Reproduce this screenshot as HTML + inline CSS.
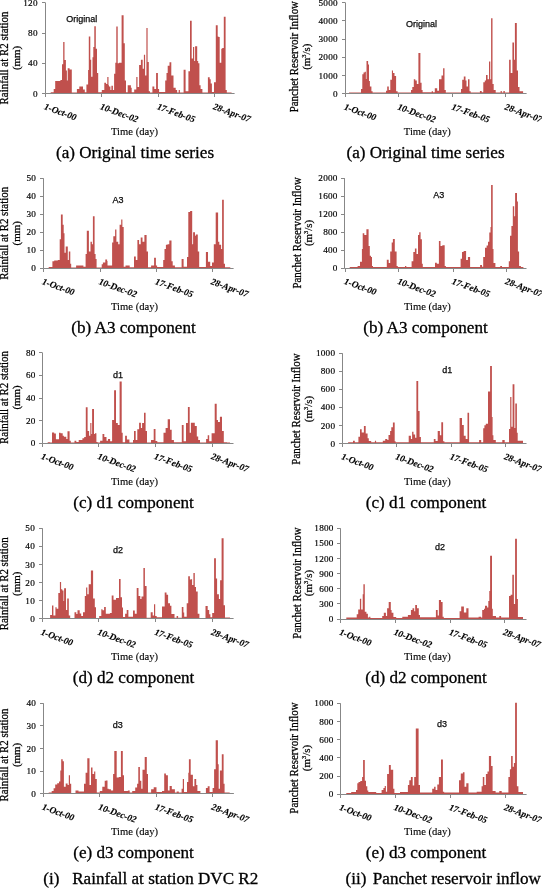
<!DOCTYPE html>
<html><head><meta charset="utf-8"><style>
html,body{margin:0;padding:0;background:#fff;}
body{width:542px;height:888px;overflow:hidden;}
svg{display:block;}
text{fill:#000;stroke:#000;stroke-width:0.25px;}
.yt{font-family:"Liberation Serif", "Times New Roman", serif;font-size:9.2px;letter-spacing:0.25px;stroke-width:0.18px;text-anchor:end;}
.yl{font-family:"Liberation Serif", "Times New Roman", serif;font-size:10.9px;text-anchor:middle;}
.sup{font-size:6.5px;}
.in{font-family:"Liberation Sans", Arial, sans-serif;font-size:9px;fill:#111;}
.xt{font-family:"Liberation Serif", "Times New Roman", serif;font-size:9.3px;font-weight:bold;font-style:italic;stroke-width:0.12px;}
.tm{font-family:"Liberation Serif", "Times New Roman", serif;font-size:10.6px;stroke-width:0.12px;text-anchor:middle;}
.cap{font-family:"Liberation Serif", "Times New Roman", serif;font-size:17.1px;stroke-width:0.3px;text-anchor:middle;}
</style></head><body>
<svg width="542" height="888" viewBox="0 0 542 888">
<path fill="#C0504D" d="M50.7 93.5L50.7 92.2L53.7 92.2L53.7 88.9L55.2 88.9L55.2 81.0L60.4 81.0L60.4 80.0L62.0 80.0L62.0 64.3L63.2 64.3L63.2 42.0L64.5 42.0L64.5 60.0L65.9 60.0L65.9 70.6L66.9 70.6L66.9 80.4L67.7 80.4L67.7 68.2L69.6 68.2L69.6 69.4L71.8 69.4L71.8 92.6L76.9 92.6L76.9 88.9L79.3 88.9L79.3 86.5L83.0 86.5L83.0 89.5L84.8 89.5L84.8 92.2L86.4 92.2L86.4 84.6L88.1 84.6L88.1 70.0L88.8 70.0L88.8 36.5L90.3 36.5L90.3 59.7L91.2 59.7L91.2 76.7L92.5 76.7L92.5 57.2L93.3 57.2L93.3 46.9L94.3 46.9L94.3 26.2L95.8 26.2L95.8 48.7L97.0 48.7L97.0 73.0L98.2 73.0L98.2 92.2L101.8 92.2L101.8 90.0L104.3 90.0L104.3 82.8L106.1 82.8L106.1 84.0L107.3 84.0L107.3 77.0L108.5 77.0L108.5 85.2L109.0 85.2L109.0 86.5L110.4 86.5L110.4 90.0L111.4 90.0L111.4 85.8L112.9 85.8L112.9 90.0L114.1 90.0L114.1 73.7L115.3 73.7L115.3 62.7L116.3 62.7L116.3 26.5L117.7 26.5L117.7 63.3L119.0 63.3L119.0 62.7L121.6 62.7L121.6 15.2L123.6 15.2L123.6 43.2L124.8 43.2L124.8 80.4L126.0 80.4L126.0 92.2L127.7 92.2L127.7 85.2L130.9 85.2L130.9 87.7L131.7 87.7L131.7 92.2L134.2 92.2L134.2 89.5L136.3 89.5L136.3 77.0L137.5 77.0L137.5 87.0L139.1 87.0L139.1 65.1L140.9 65.1L140.9 59.7L142.7 59.7L142.7 68.8L143.9 68.8L143.9 54.8L145.1 54.8L145.1 75.5L146.4 75.5L146.4 28.0L147.6 28.0L147.6 62.1L148.8 62.1L148.8 91.3L150.0 91.3L150.0 92.6L152.4 92.6L152.4 86.5L154.3 86.5L154.3 88.9L156.1 88.9L156.1 73.0L157.9 73.0L157.9 88.9L159.1 88.9L159.1 92.0L165.2 92.0L165.2 80.4L166.5 80.4L166.5 73.0L167.7 73.0L167.7 65.8L169.5 65.8L169.5 62.3L171.3 62.3L171.3 75.5L173.5 75.5L173.5 87.7L175.7 87.7L175.7 90.0L177.1 90.0L177.1 92.6L178.7 92.6L178.7 90.0L179.9 90.0L179.9 92.6L183.6 92.6L183.6 69.7L185.6 69.7L185.6 91.3L188.4 91.3L188.4 71.2L190.0 71.2L190.0 20.7L191.7 20.7L191.7 58.5L193.0 58.5L193.0 46.9L194.2 46.9L194.2 60.9L195.1 60.9L195.1 46.3L197.2 46.3L197.2 60.9L198.2 60.9L198.2 63.3L199.4 63.3L199.4 85.2L200.6 85.2L200.6 88.9L202.4 88.9L202.4 92.6L207.9 92.6L207.9 77.3L209.7 77.3L209.7 79.2L210.7 79.2L210.7 83.4L211.9 83.4L211.9 92.0L214.0 92.0L214.0 82.2L215.8 82.2L215.8 25.3L217.7 25.3L217.7 36.5L218.5 36.5L218.5 37.1L219.7 37.1L219.7 62.7L221.3 62.7L221.3 48.7L222.2 48.7L222.2 48.1L223.8 48.1L223.8 16.8L225.6 16.8L225.6 90.0L226.8 90.0L226.8 92.4L231.6 92.4L231.6 93.5Z"/>
<path stroke="#878787" stroke-width="1" fill="none" d="M45.5 2.8V93.5H234.6"/>
<path stroke="#878787" stroke-width="1" fill="none" d="M42.0 93.5H45.5M42.0 63.5H45.5M42.0 33.5H45.5M42.0 2.5H45.5M45.5 93.5V97.0M101.5 93.5V97.0M158.5 93.5V97.0M214.5 93.5V97.0"/>
<text x="37.8" y="96.5" class="yt">0</text>
<text x="37.8" y="66.3" class="yt">40</text>
<text x="37.8" y="36.0" class="yt">80</text>
<text x="37.8" y="5.8" class="yt">120</text>
<text class="yl" transform="translate(8.3 58.0) rotate(-90) scale(1 1.12)">Rainfall at R2 station</text>
<text class="yl" transform="translate(19.6 58.0) rotate(-90)">(mm)</text>
<text x="66.3" y="21.8" class="in">Original</text>
<text class="xt" transform="translate(43.6 109.0) rotate(20)">1-Oct-00</text>
<text class="xt" transform="translate(99.6 109.0) rotate(20)">10-Dec-02</text>
<text class="xt" transform="translate(156.4 109.0) rotate(20)">17-Feb-05</text>
<text class="xt" transform="translate(212.4 109.0) rotate(20)">28-Apr-07</text>
<text transform="translate(134.5 134.6) scale(1 1.05)" class="tm">Time (day)</text>
<text x="135.0" y="158.3" class="cap">(a) Original time series</text>
<path fill="#C0504D" d="M349.0 93.7L349.0 92.4L361.0 92.4L361.0 88.9L362.3 88.9L362.3 74.3L363.5 74.3L363.5 72.5L364.7 72.5L364.7 71.8L365.9 71.8L365.9 79.0L366.5 79.0L366.5 60.9L368.1 60.9L368.1 64.5L369.0 64.5L369.0 81.0L369.9 81.0L369.9 86.5L371.4 86.5L371.4 91.3L372.6 91.3L372.6 92.4L386.0 92.4L386.0 90.7L387.2 90.7L387.2 86.5L388.8 86.5L388.8 90.0L390.3 90.0L390.3 79.8L391.9 79.8L391.9 70.6L393.0 70.6L393.0 73.0L394.5 73.0L394.5 76.1L396.1 76.1L396.1 91.3L397.6 91.3L397.6 92.4L411.0 92.4L411.0 90.0L412.3 90.0L412.3 87.0L413.8 87.0L413.8 79.2L415.3 79.2L415.3 80.4L416.8 80.4L416.8 84.0L418.4 84.0L418.4 53.0L420.4 53.0L420.4 82.8L421.6 82.8L421.6 90.0L422.6 90.0L422.6 92.3L431.7 92.3L431.7 91.2L433.0 91.2L433.0 92.3L434.8 92.3L434.8 88.3L437.2 88.3L437.2 90.7L439.0 90.7L439.0 79.2L441.5 79.2L441.5 75.5L443.1 75.5L443.1 68.2L444.5 68.2L444.5 90.0L445.8 90.0L445.8 92.4L461.0 92.4L461.0 88.9L462.2 88.9L462.2 79.8L463.8 79.8L463.8 76.5L465.5 76.5L465.5 80.4L466.5 80.4L466.5 86.5L468.0 86.5L468.0 79.2L469.5 79.2L469.5 91.3L470.7 91.3L470.7 92.4L479.9 92.4L479.9 91.1L481.7 91.1L481.7 92.3L483.3 92.3L483.3 82.2L484.8 82.2L484.8 80.4L486.0 80.4L486.0 74.9L487.6 74.9L487.6 79.2L489.0 79.2L489.0 61.5L490.3 61.5L490.3 79.2L491.1 79.2L491.1 18.3L492.5 18.3L492.5 84.0L493.7 84.0L493.7 90.0L495.7 90.0L495.7 92.4L500.6 92.4L500.6 91.1L501.8 91.1L501.8 92.4L503.4 92.4L503.4 91.1L504.8 91.1L504.8 92.4L509.1 92.4L509.1 59.7L510.7 59.7L510.7 73.0L512.4 73.0L512.4 42.6L514.0 42.6L514.0 59.7L514.9 59.7L514.9 23.1L516.8 23.1L516.8 70.6L518.0 70.6L518.0 87.0L519.5 87.0L519.5 91.3L523.1 91.3L523.1 93.7Z"/>
<path stroke="#878787" stroke-width="1" fill="none" d="M345.5 2.8V93.5H526.6"/>
<path stroke="#878787" stroke-width="1" fill="none" d="M342.0 93.5H345.5M342.0 75.5H345.5M342.0 57.5H345.5M342.0 39.5H345.5M342.0 20.5H345.5M342.0 2.5H345.5M345.5 93.5V97.0M398.5 93.5V97.0M452.5 93.5V97.0M505.5 93.5V97.0"/>
<text x="337.9" y="96.7" class="yt">0</text>
<text x="337.9" y="78.5" class="yt">1000</text>
<text x="337.9" y="60.3" class="yt">2000</text>
<text x="337.9" y="42.2" class="yt">3000</text>
<text x="337.9" y="24.0" class="yt">4000</text>
<text x="337.9" y="5.8" class="yt">5000</text>
<text class="yl" transform="translate(298.3 56.7) rotate(-90) scale(1 1.12)">Panchet Reservoir Inflow</text>
<text class="yl" transform="translate(309.6 56.7) rotate(-90)">(m<tspan class="sup" dy="-3.5">3</tspan><tspan dy="3.5">/s)</tspan></text>
<text x="406.0" y="27.4" class="in">Original</text>
<text class="xt" transform="translate(343.4 109.2) rotate(20)">1-Oct-00</text>
<text class="xt" transform="translate(396.9 109.2) rotate(20)">10-Dec-02</text>
<text class="xt" transform="translate(451.0 109.2) rotate(20)">17-Feb-05</text>
<text class="xt" transform="translate(504.1 109.2) rotate(20)">28-Apr-07</text>
<text transform="translate(427.3 134.6) scale(1 1.05)" class="tm">Time (day)</text>
<text x="425.5" y="158.3" class="cap">(a) Original time series</text>
<path fill="#C0504D" d="M48.7 268.4L48.7 267.1L52.4 267.1L52.4 261.2L54.2 261.2L54.2 260.6L57.8 260.6L57.8 260.0L59.7 260.0L59.7 239.3L60.9 239.3L60.9 214.4L62.7 214.4L62.7 224.7L63.7 224.7L63.7 233.2L64.5 233.2L64.5 252.7L65.7 252.7L65.7 246.6L67.8 246.6L67.8 260.0L68.8 260.0L68.8 251.5L70.3 251.5L70.3 263.7L71.2 263.7L71.2 267.6L76.1 267.6L76.1 265.5L83.4 265.5L83.4 266.7L85.6 266.7L85.6 253.9L86.8 253.9L86.8 230.8L88.9 230.8L88.9 251.5L90.5 251.5L90.5 241.8L91.9 241.8L91.9 244.2L92.9 244.2L92.9 216.2L94.6 216.2L94.6 254.0L95.6 254.0L95.6 259.0L96.6 259.0L96.6 267.6L101.7 267.6L101.7 264.3L102.9 264.3L102.9 262.5L105.3 262.5L105.3 259.4L107.1 259.4L107.1 261.0L107.5 261.0L107.5 265.5L112.1 265.5L112.1 242.4L113.3 242.4L113.3 236.3L115.1 236.3L115.1 229.6L116.4 229.6L116.4 241.8L118.2 241.8L118.2 244.2L119.6 244.2L119.6 224.7L121.2 224.7L121.2 219.6L122.4 219.6L122.4 227.1L123.7 227.1L123.7 266.7L125.5 266.7L125.5 265.5L129.7 265.5L129.7 267.3L134.0 267.3L134.0 256.4L135.8 256.4L135.8 260.0L137.4 260.0L137.4 240.0L139.1 240.0L139.1 244.2L140.7 244.2L140.7 237.5L142.5 237.5L142.5 241.8L144.4 241.8L144.4 235.1L146.6 235.1L146.6 251.5L148.0 251.5L148.0 267.3L151.1 267.3L151.1 265.5L154.1 265.5L154.1 257.8L155.9 257.8L155.9 265.5L157.1 265.5L157.1 267.1L163.2 267.1L163.2 260.0L164.5 260.0L164.5 249.0L165.9 249.0L165.9 244.8L167.5 244.8L167.5 244.2L169.3 244.2L169.3 240.5L171.5 240.5L171.5 261.2L172.7 261.2L172.7 265.5L174.9 265.5L174.9 267.3L181.6 267.3L181.6 259.0L183.6 259.0L183.6 266.7L187.0 266.7L187.0 257.0L188.3 257.0L188.3 211.9L190.1 211.9L190.1 211.1L192.2 211.1L192.2 244.2L193.1 244.2L193.1 232.3L195.0 232.3L195.0 235.7L195.8 235.7L195.8 234.5L197.8 234.5L197.8 251.5L199.2 251.5L199.2 267.1L205.9 267.1L205.9 252.1L208.0 252.1L208.0 261.8L210.2 261.8L210.2 266.1L212.0 266.1L212.0 262.5L213.8 262.5L213.8 244.2L215.7 244.2L215.7 212.5L218.1 212.5L218.1 241.8L219.3 241.8L219.3 244.8L221.1 244.8L221.1 249.0L222.1 249.0L222.1 199.7L223.8 199.7L223.8 263.7L225.0 263.7L225.0 267.3L230.3 267.3L230.3 268.4Z"/>
<path stroke="#878787" stroke-width="1" fill="none" d="M43.5 178.3V268.5H233.6"/>
<path stroke="#878787" stroke-width="1" fill="none" d="M40.0 268.5H43.5M40.0 250.5H43.5M40.0 232.5H43.5M40.0 214.5H43.5M40.0 196.5H43.5M40.0 178.5H43.5M43.5 268.5V272.0M100.5 268.5V272.0M156.5 268.5V272.0M212.5 268.5V272.0"/>
<text x="36.2" y="271.4" class="yt">0</text>
<text x="36.2" y="253.4" class="yt">10</text>
<text x="36.2" y="235.4" class="yt">20</text>
<text x="36.2" y="217.3" class="yt">30</text>
<text x="36.2" y="199.3" class="yt">40</text>
<text x="36.2" y="181.3" class="yt">50</text>
<text class="yl" transform="translate(8.3 233.3) rotate(-90) scale(1 1.12)">Rainfall at R2 station</text>
<text class="yl" transform="translate(19.6 233.3) rotate(-90)">(mm)</text>
<text x="112.5" y="202.5" class="in">A3</text>
<text class="xt" transform="translate(41.6 283.9) rotate(20)">1-Oct-00</text>
<text class="xt" transform="translate(98.2 283.9) rotate(20)">10-Dec-02</text>
<text class="xt" transform="translate(154.6 283.9) rotate(20)">17-Feb-05</text>
<text class="xt" transform="translate(210.2 283.9) rotate(20)">28-Apr-07</text>
<text transform="translate(134.5 309.6) scale(1 1.05)" class="tm">Time (day)</text>
<text x="133.5" y="333.3" class="cap">(b) A3 component</text>
<path fill="#C0504D" d="M349.7 268.2L349.7 267.1L357.6 267.1L357.6 266.1L360.0 266.1L360.0 261.8L361.9 261.8L361.9 249.0L362.7 249.0L362.7 233.2L364.3 233.2L364.3 235.1L366.4 235.1L366.4 229.3L368.6 229.3L368.6 246.0L369.8 246.0L369.8 255.8L371.0 255.8L371.0 257.0L372.0 257.0L372.0 266.1L373.0 266.1L373.0 267.1L386.8 267.1L386.8 259.8L388.7 259.8L388.7 263.0L390.2 263.0L390.2 251.5L391.7 251.5L391.7 242.4L392.9 242.4L392.9 239.1L394.8 239.1L394.8 251.5L396.6 251.5L396.6 266.1L397.8 266.1L397.8 267.1L405.0 267.1L405.0 266.0L406.3 266.0L406.3 267.1L411.6 267.1L411.6 261.2L413.3 261.2L413.3 252.1L414.9 252.1L414.9 248.5L416.5 248.5L416.5 254.0L418.0 254.0L418.0 235.1L419.2 235.1L419.2 232.3L420.6 232.3L420.6 239.3L421.9 239.3L421.9 263.7L422.8 263.7L422.8 267.1L435.0 267.1L435.0 262.7L436.8 262.7L436.8 263.7L438.9 263.7L438.9 241.1L440.5 241.1L440.5 246.0L442.3 246.0L442.3 245.2L444.7 245.2L444.7 266.1L445.9 266.1L445.9 267.1L460.6 267.1L460.6 258.8L462.0 258.8L462.0 252.1L463.6 252.1L463.6 250.9L466.1 250.9L466.1 260.0L467.9 260.0L467.9 257.0L470.1 257.0L470.1 267.1L480.1 267.1L480.1 265.1L482.0 265.1L482.0 266.7L483.2 266.7L483.2 257.0L485.0 257.0L485.0 247.8L486.6 247.8L486.6 245.4L488.0 245.4L488.0 241.8L489.3 241.8L489.3 232.6L490.5 232.6L490.5 227.1L491.1 227.1L491.1 185.1L492.7 185.1L492.7 249.0L493.5 249.0L493.5 263.0L495.4 263.0L495.4 267.1L500.2 267.1L500.2 265.9L502.0 265.9L502.0 267.1L508.8 267.1L508.8 261.2L510.0 261.2L510.0 235.7L511.4 235.7L511.4 225.9L512.8 225.9L512.8 206.2L514.2 206.2L514.2 216.2L515.1 216.2L515.1 193.0L517.0 193.0L517.0 201.6L517.9 201.6L517.9 251.5L519.1 251.5L519.1 266.1L520.9 266.1L520.9 267.1L523.4 267.1L523.4 268.2Z"/>
<path stroke="#878787" stroke-width="1" fill="none" d="M344.5 178.1V268.5H526.5"/>
<path stroke="#878787" stroke-width="1" fill="none" d="M341.0 268.5H344.5M341.0 250.5H344.5M341.0 232.5H344.5M341.0 214.5H344.5M341.0 196.5H344.5M341.0 178.5H344.5M345.5 268.5V272.0M398.5 268.5V272.0M453.5 268.5V272.0M506.5 268.5V272.0"/>
<text x="337.7" y="271.2" class="yt">0</text>
<text x="337.7" y="253.2" class="yt">400</text>
<text x="337.7" y="235.2" class="yt">800</text>
<text x="337.7" y="217.1" class="yt">1200</text>
<text x="337.7" y="199.1" class="yt">1600</text>
<text x="337.7" y="181.1" class="yt">2000</text>
<text class="yl" transform="translate(300.8 232.9) rotate(-90) scale(1 1.12)">Panchet Reservoir Inflow</text>
<text class="yl" transform="translate(311.6 232.9) rotate(-90)">(m<tspan class="sup" dy="-3.5">3</tspan><tspan dy="3.5">/s)</tspan></text>
<text x="433.2" y="197.7" class="in">A3</text>
<text class="xt" transform="translate(343.6 283.7) rotate(20)">1-Oct-00</text>
<text class="xt" transform="translate(396.9 283.7) rotate(20)">10-Dec-02</text>
<text class="xt" transform="translate(451.3 283.7) rotate(20)">17-Feb-05</text>
<text class="xt" transform="translate(504.6 283.7) rotate(20)">28-Apr-07</text>
<text transform="translate(427.4 309.6) scale(1 1.05)" class="tm">Time (day)</text>
<text x="425.5" y="333.3" class="cap">(b) A3 component</text>
<path fill="#C0504D" d="M47.7 443.3L47.7 442.2L50.1 442.2L50.1 442.6L52.0 442.6L52.0 432.6L54.2 432.6L54.2 433.4L55.9 433.4L55.9 439.3L59.0 439.3L59.0 432.8L60.5 432.8L60.5 433.2L62.7 433.2L62.7 435.8L63.9 435.8L63.9 436.7L66.3 436.7L66.3 438.9L67.5 438.9L67.5 431.3L69.6 431.3L69.6 440.7L70.8 440.7L70.8 442.5L74.5 442.5L74.5 440.7L76.3 440.7L76.3 442.0L78.7 442.0L78.7 440.1L82.4 440.1L82.4 438.3L84.2 438.3L84.2 437.1L85.8 437.1L85.8 407.2L87.6 407.2L87.6 431.0L89.1 431.0L89.1 435.8L90.3 435.8L90.3 423.1L91.4 423.1L91.4 434.0L92.1 434.0L92.1 409.1L94.0 409.1L94.0 434.0L94.9 434.0L94.9 433.2L96.4 433.2L96.4 442.0L97.6 442.0L97.6 442.4L100.1 442.4L100.1 440.7L102.5 440.7L102.5 434.0L104.3 434.0L104.3 436.9L106.5 436.9L106.5 440.7L108.0 440.7L108.0 438.9L110.1 438.9L110.1 441.3L112.1 441.3L112.1 420.0L114.1 420.0L114.1 390.2L116.0 390.2L116.0 423.1L117.8 423.1L117.8 424.9L119.6 424.9L119.6 381.4L121.7 381.4L121.7 432.8L122.7 432.8L122.7 442.2L125.1 442.2L125.1 435.8L126.9 435.8L126.9 439.5L129.4 439.5L129.4 442.5L133.0 442.5L133.0 440.1L134.0 440.1L134.0 431.0L135.7 431.0L135.7 440.1L137.3 440.1L137.3 429.2L139.1 429.2L139.1 422.8L140.9 422.8L140.9 428.0L142.1 428.0L142.1 423.1L144.0 423.1L144.0 412.7L145.6 412.7L145.6 431.0L147.0 431.0L147.0 442.5L151.0 442.5L151.0 440.1L153.7 440.1L153.7 428.9L155.5 428.9L155.5 441.1L157.3 441.1L157.3 442.3L163.5 442.3L163.5 432.8L165.6 432.8L165.6 428.0L167.7 428.0L167.7 419.2L169.5 419.2L169.5 419.2L170.0 419.2L170.0 429.8L171.7 429.8L171.7 439.9L173.9 439.9L173.9 442.2L181.8 442.2L181.8 424.9L183.6 424.9L183.6 441.3L186.0 441.3L186.0 423.1L187.9 423.1L187.9 407.0L189.7 407.0L189.7 432.8L190.9 432.8L190.9 422.8L194.8 422.8L194.8 426.1L196.8 426.1L196.8 436.5L198.2 436.5L198.2 440.1L200.0 440.1L200.0 442.5L206.1 442.5L206.1 438.9L207.7 438.9L207.7 435.2L209.2 435.2L209.2 441.3L211.6 441.3L211.6 433.2L214.7 433.2L214.7 403.8L216.7 403.8L216.7 420.0L218.0 420.0L218.0 422.1L219.9 422.1L219.9 416.7L222.0 416.7L222.0 431.0L223.8 431.0L223.8 442.2L227.0 442.2L227.0 442.5L230.0 442.5L230.0 443.3Z"/>
<path stroke="#878787" stroke-width="1" fill="none" d="M42.5 352.8V443.5H233.5"/>
<path stroke="#878787" stroke-width="1" fill="none" d="M39.0 443.5H42.5M39.0 420.5H42.5M39.0 398.5H42.5M39.0 375.5H42.5M39.0 352.5H42.5M42.5 443.5V447.0M98.5 443.5V447.0M155.5 443.5V447.0M212.5 443.5V447.0"/>
<text x="35.6" y="446.3" class="yt">0</text>
<text x="35.6" y="423.7" class="yt">20</text>
<text x="35.6" y="401.1" class="yt">40</text>
<text x="35.6" y="378.4" class="yt">60</text>
<text x="35.6" y="355.8" class="yt">80</text>
<text class="yl" transform="translate(8.3 397.5) rotate(-90) scale(1 1.12)">Rainfall at R2 station</text>
<text class="yl" transform="translate(19.6 397.5) rotate(-90)">(mm)</text>
<text x="112.9" y="377.8" class="in">d1</text>
<text class="xt" transform="translate(40.6 458.8) rotate(20)">1-Oct-00</text>
<text class="xt" transform="translate(97.1 458.8) rotate(20)">10-Dec-02</text>
<text class="xt" transform="translate(153.6 458.8) rotate(20)">17-Feb-05</text>
<text class="xt" transform="translate(210.5 458.8) rotate(20)">28-Apr-07</text>
<text transform="translate(134.5 484.6) scale(1 1.05)" class="tm">Time (day)</text>
<text x="133.5" y="508.3" class="cap">(c) d1 component</text>
<path fill="#C0504D" d="M348.1 443.5L348.1 442.2L353.0 442.2L353.0 440.7L354.8 440.7L354.8 442.2L358.4 442.2L358.4 436.7L360.0 436.7L360.0 429.2L361.7 429.2L361.7 432.6L363.9 432.6L363.9 426.1L365.7 426.1L365.7 433.4L367.6 433.4L367.6 438.3L368.8 438.3L368.8 441.1L371.2 441.1L371.2 442.3L374.9 442.3L374.9 440.7L376.1 440.7L376.1 442.3L382.8 442.3L382.8 440.7L385.2 440.7L385.2 438.9L387.3 438.9L387.3 440.1L388.5 440.1L388.5 435.0L390.1 435.0L390.1 431.0L391.3 431.0L391.3 427.3L392.9 427.3L392.9 422.5L394.7 422.5L394.7 441.3L395.6 441.3L395.6 442.2L408.7 442.2L408.7 435.8L410.9 435.8L410.9 438.9L412.1 438.9L412.1 431.8L413.5 431.8L413.5 434.6L415.1 434.6L415.1 437.7L416.4 437.7L416.4 381.0L418.2 381.0L418.2 410.9L419.6 410.9L419.6 437.1L420.9 437.1L420.9 442.3L433.8 442.3L433.8 438.9L435.5 438.9L435.5 441.1L437.7 441.1L437.7 431.0L439.9 431.0L439.9 435.2L441.3 435.2L441.3 422.2L443.1 422.2L443.1 441.3L444.4 441.3L444.4 442.3L459.6 442.3L459.6 418.0L462.0 418.0L462.0 424.9L463.8 424.9L463.8 435.8L465.7 435.8L465.7 438.9L467.5 438.9L467.5 412.7L469.1 412.7L469.1 442.3L479.1 442.3L479.1 439.9L481.2 439.9L481.2 442.3L483.2 442.3L483.2 428.2L484.4 428.2L484.4 425.3L485.8 425.3L485.8 423.7L488.0 423.7L488.0 391.4L490.1 391.4L490.1 366.1L491.9 366.1L491.9 417.0L492.6 417.0L492.6 435.2L493.4 435.2L493.4 440.1L495.8 440.1L495.8 442.3L502.3 442.3L502.3 440.1L504.7 440.1L504.7 442.3L509.0 442.3L509.0 428.9L510.2 428.9L510.2 396.9L511.4 396.9L511.4 426.7L512.6 426.7L512.6 384.3L514.4 384.3L514.4 427.9L515.3 427.9L515.3 403.6L516.9 403.6L516.9 432.8L517.7 432.8L517.7 440.7L523.0 440.7L523.0 443.5Z"/>
<path stroke="#878787" stroke-width="1" fill="none" d="M342.5 353.3V443.5H526.5"/>
<path stroke="#878787" stroke-width="1" fill="none" d="M339.0 443.5H342.5M339.0 425.5H342.5M339.0 407.5H342.5M339.0 389.5H342.5M339.0 371.5H342.5M339.0 353.5H342.5M342.5 443.5V447.0M396.5 443.5V447.0M451.5 443.5V447.0M505.5 443.5V447.0"/>
<text x="335.3" y="446.5" class="yt">0</text>
<text x="335.3" y="428.5" class="yt">200</text>
<text x="335.3" y="410.4" class="yt">400</text>
<text x="335.3" y="392.4" class="yt">600</text>
<text x="335.3" y="374.3" class="yt">800</text>
<text x="335.3" y="356.3" class="yt">1000</text>
<text class="yl" transform="translate(300.3 409.0) rotate(-90) scale(1 1.12)">Panchet Reservoir Inflow</text>
<text class="yl" transform="translate(311.6 409.0) rotate(-90)">(m<tspan class="sup" dy="-3.5">3</tspan><tspan dy="3.5">/s)</tspan></text>
<text x="442.3" y="373.1" class="in">d1</text>
<text class="xt" transform="translate(340.7 459.0) rotate(20)">1-Oct-00</text>
<text class="xt" transform="translate(394.8 459.0) rotate(20)">10-Dec-02</text>
<text class="xt" transform="translate(449.3 459.0) rotate(20)">17-Feb-05</text>
<text class="xt" transform="translate(503.4 459.0) rotate(20)">28-Apr-07</text>
<text transform="translate(427.4 484.6) scale(1 1.05)" class="tm">Time (day)</text>
<text x="426.0" y="508.3" class="cap">(c) d1 component</text>
<path fill="#C0504D" d="M47.7 618.9L47.7 617.9L50.1 617.9L50.1 614.9L52.0 614.9L52.0 605.4L53.4 605.4L53.4 615.5L55.4 615.5L55.4 607.3L56.6 607.3L56.6 608.8L58.3 608.8L58.3 593.0L59.9 593.0L59.9 582.0L61.1 582.0L61.1 589.3L62.3 589.3L62.3 590.5L63.5 590.5L63.5 600.9L64.1 600.9L64.1 588.3L66.0 588.3L66.0 610.0L67.2 610.0L67.2 598.5L68.8 598.5L68.8 615.5L70.2 615.5L70.2 618.2L74.5 618.2L74.5 612.2L76.3 612.2L76.3 613.9L77.5 613.9L77.5 610.3L79.7 610.3L79.7 613.4L81.2 613.4L81.2 616.1L83.0 616.1L83.0 612.2L84.8 612.2L84.8 596.0L86.1 596.0L86.1 587.5L87.3 587.5L87.3 594.2L88.7 594.2L88.7 584.2L90.9 584.2L90.9 570.4L93.1 570.4L93.1 598.5L94.8 598.5L94.8 607.3L96.0 607.3L96.0 618.2L99.2 618.2L99.2 615.9L101.3 615.9L101.3 609.2L102.5 609.2L102.5 610.3L104.1 610.3L104.1 607.0L105.8 607.0L105.8 613.7L106.0 613.7L106.0 613.7L109.9 613.7L109.9 613.1L111.7 613.1L111.7 595.4L113.5 595.4L113.5 599.7L116.0 599.7L116.0 598.1L119.0 598.1L119.0 579.0L120.6 579.0L120.6 597.2L122.0 597.2L122.0 607.6L123.0 607.6L123.0 617.1L125.1 617.1L125.1 613.7L126.7 613.7L126.7 610.0L128.4 610.0L128.4 616.7L133.0 616.7L133.0 610.6L134.8 610.6L134.8 613.7L136.7 613.7L136.7 588.1L138.5 588.1L138.5 596.0L140.3 596.0L140.3 599.1L141.5 599.1L141.5 596.6L143.4 596.6L143.4 568.0L144.9 568.0L144.9 585.9L146.6 585.9L146.6 617.7L150.7 617.7L150.7 612.2L152.7 612.2L152.7 615.5L154.0 615.5L154.0 604.2L155.2 604.2L155.2 616.1L156.7 616.1L156.7 617.3L162.0 617.3L162.0 606.4L164.7 606.4L164.7 592.4L166.5 592.4L166.5 594.8L168.1 594.8L168.1 603.3L169.5 603.3L169.5 603.3L170.0 603.3L170.0 605.8L171.4 605.8L171.4 613.9L174.5 613.9L174.5 617.7L176.6 617.7L176.6 615.9L178.1 615.9L178.1 617.7L181.8 617.7L181.8 607.0L183.4 607.0L183.4 612.5L184.2 612.5L184.2 616.7L186.7 616.7L186.7 603.3L188.2 603.3L188.2 576.2L189.9 576.2L189.9 579.6L190.9 579.6L190.9 579.3L192.1 579.3L192.1 585.1L193.4 585.1L193.4 572.9L194.8 572.9L194.8 586.9L196.0 586.9L196.0 591.5L197.7 591.5L197.7 613.7L199.4 613.7L199.4 618.2L205.5 618.2L205.5 606.1L207.7 606.1L207.7 610.0L209.2 610.0L209.2 614.3L210.4 614.3L210.4 617.3L212.2 617.3L212.2 613.1L214.1 613.1L214.1 558.3L215.9 558.3L215.9 578.4L217.1 578.4L217.1 594.2L218.9 594.2L218.9 599.1L220.1 599.1L220.1 580.2L221.6 580.2L221.6 538.2L223.6 538.2L223.6 605.2L225.0 605.2L225.0 617.6L230.0 617.6L230.0 618.9Z"/>
<path stroke="#878787" stroke-width="1" fill="none" d="M42.5 528.3V618.5H233.6"/>
<path stroke="#878787" stroke-width="1" fill="none" d="M39.0 618.5H42.5M39.0 600.5H42.5M39.0 582.5H42.5M39.0 564.5H42.5M39.0 546.5H42.5M39.0 528.5H42.5M42.5 618.5V622.0M98.5 618.5V622.0M155.5 618.5V622.0M212.5 618.5V622.0"/>
<text x="35.0" y="621.9" class="yt">0</text>
<text x="35.0" y="603.8" class="yt">10</text>
<text x="35.0" y="585.7" class="yt">20</text>
<text x="35.0" y="567.5" class="yt">30</text>
<text x="35.0" y="549.4" class="yt">40</text>
<text x="35.0" y="531.3" class="yt">50</text>
<text class="yl" transform="translate(8.3 583.8) rotate(-90) scale(1 1.12)">Rainfall at R2 station</text>
<text class="yl" transform="translate(19.6 583.8) rotate(-90)">(mm)</text>
<text x="112.9" y="552.8" class="in">d2</text>
<text class="xt" transform="translate(40.2 634.4) rotate(20)">1-Oct-00</text>
<text class="xt" transform="translate(97.1 634.4) rotate(20)">10-Dec-02</text>
<text class="xt" transform="translate(154.0 634.4) rotate(20)">17-Feb-05</text>
<text class="xt" transform="translate(210.5 634.4) rotate(20)">28-Apr-07</text>
<text transform="translate(134.5 659.6) scale(1 1.05)" class="tm">Time (day)</text>
<text x="133.5" y="683.3" class="cap">(d) d2 component</text>
<path fill="#C0504D" d="M346.3 619.0L346.3 617.6L356.7 617.6L356.7 614.3L358.2 614.3L358.2 609.4L359.9 609.4L359.9 598.8L361.2 598.8L361.2 609.4L362.7 609.4L362.7 594.2L363.4 594.2L363.4 584.2L364.8 584.2L364.8 611.8L366.4 611.8L366.4 613.7L367.9 613.7L367.9 617.6L369.2 617.6L369.2 616.7L370.4 616.7L370.4 617.9L382.2 617.9L382.2 616.1L383.8 616.1L383.8 612.7L385.9 612.7L385.9 616.1L387.1 616.1L387.1 608.2L388.7 608.2L388.7 602.1L390.8 602.1L390.8 610.0L391.6 610.0L391.6 612.7L393.4 612.7L393.4 617.1L396.2 617.1L396.2 617.9L402.3 617.9L402.3 616.8L407.9 616.8L407.9 615.1L410.9 615.1L410.9 610.0L412.5 610.0L412.5 608.2L414.2 608.2L414.2 611.2L415.2 611.2L415.2 604.9L417.0 604.9L417.0 608.2L418.8 608.2L418.8 614.9L420.0 614.9L420.0 617.3L435.9 617.3L435.9 610.0L437.7 610.0L437.7 615.5L438.9 615.5L438.9 600.0L441.0 600.0L441.0 602.1L442.6 602.1L442.6 616.7L443.8 616.7L443.8 617.9L459.6 617.9L459.6 611.2L461.2 611.2L461.2 606.4L463.9 606.4L463.9 612.5L466.3 612.5L466.3 608.2L468.1 608.2L468.1 608.2L468.5 608.2L468.5 617.6L478.6 617.6L478.6 616.7L481.0 616.7L481.0 617.6L482.2 617.6L482.2 610.0L484.0 610.0L484.0 608.8L485.0 608.8L485.0 605.8L487.1 605.8L487.1 607.6L488.3 607.6L488.3 600.9L489.3 600.9L489.3 591.1L490.1 591.1L490.1 555.8L492.0 555.8L492.0 608.8L492.8 608.8L492.8 615.9L496.0 615.9L496.0 617.6L499.3 617.6L499.3 616.1L501.1 616.1L501.1 617.6L509.0 617.6L509.0 596.0L510.6 596.0L510.6 594.8L512.3 594.8L512.3 574.7L513.9 574.7L513.9 603.9L515.1 603.9L515.1 538.8L516.9 538.8L516.9 599.1L517.9 599.1L517.9 617.1L523.0 617.1L523.0 619.0Z"/>
<path stroke="#878787" stroke-width="1" fill="none" d="M340.5 528.3V619.5H526.5"/>
<path stroke="#878787" stroke-width="1" fill="none" d="M337.0 619.5H340.5M337.0 603.5H340.5M337.0 588.5H340.5M337.0 573.5H340.5M337.0 558.5H340.5M337.0 543.5H340.5M337.0 528.5H340.5M340.5 619.5V623.0M395.5 619.5V623.0M450.5 619.5V623.0M504.5 619.5V623.0"/>
<text x="333.7" y="622.0" class="yt">0</text>
<text x="333.7" y="606.9" class="yt">300</text>
<text x="333.7" y="591.8" class="yt">600</text>
<text x="333.7" y="576.6" class="yt">900</text>
<text x="333.7" y="561.5" class="yt">1200</text>
<text x="333.7" y="546.4" class="yt">1500</text>
<text x="333.7" y="531.3" class="yt">1800</text>
<text class="yl" transform="translate(300.8 583.0) rotate(-90) scale(1 1.12)">Panchet Reservoir Inflow</text>
<text class="yl" transform="translate(311.6 583.0) rotate(-90)">(m<tspan class="sup" dy="-3.5">3</tspan><tspan dy="3.5">/s)</tspan></text>
<text x="434.9" y="550.4" class="in">d2</text>
<text class="xt" transform="translate(338.7 634.5) rotate(20)">1-Oct-00</text>
<text class="xt" transform="translate(393.2 634.5) rotate(20)">10-Dec-02</text>
<text class="xt" transform="translate(448.5 634.5) rotate(20)">17-Feb-05</text>
<text class="xt" transform="translate(502.5 634.5) rotate(20)">28-Apr-07</text>
<text transform="translate(427.4 659.6) scale(1 1.05)" class="tm">Time (day)</text>
<text x="426.0" y="683.3" class="cap">(d) d2 component</text>
<path fill="#C0504D" d="M48.7 793.8L48.7 792.6L51.7 792.6L51.7 791.1L53.6 791.1L53.6 788.2L55.2 788.2L55.2 784.4L57.2 784.4L57.2 783.2L59.0 783.2L59.0 781.4L60.3 781.4L60.3 770.4L61.2 770.4L61.2 759.2L62.7 759.2L62.7 761.3L63.9 761.3L63.9 786.8L65.7 786.8L65.7 783.6L67.6 783.6L67.6 785.0L68.8 785.0L68.8 775.3L70.0 775.3L70.0 783.8L71.2 783.8L71.2 792.9L75.5 792.9L75.5 790.5L78.5 790.5L78.5 791.4L84.0 791.4L84.0 783.8L85.6 783.8L85.6 772.8L87.3 772.8L87.3 758.2L89.5 758.2L89.5 785.0L91.0 785.0L91.0 767.4L92.5 767.4L92.5 774.1L94.1 774.1L94.1 771.4L95.3 771.4L95.3 778.9L96.8 778.9L96.8 792.6L99.8 792.6L99.8 791.1L102.3 791.1L102.3 786.8L104.7 786.8L104.7 780.8L106.0 780.8L106.0 780.4L107.5 780.4L107.5 788.7L108.7 788.7L108.7 789.3L110.9 789.3L110.9 790.5L113.1 790.5L113.1 774.1L114.3 774.1L114.3 750.9L116.7 750.9L116.7 777.5L118.8 777.5L118.8 777.1L120.9 777.1L120.9 750.9L122.8 750.9L122.8 775.3L124.0 775.3L124.0 791.1L127.9 791.1L127.9 790.5L129.7 790.5L129.7 792.6L132.2 792.6L132.2 791.1L135.2 791.1L135.2 787.5L137.1 787.5L137.1 783.8L138.3 783.8L138.3 767.0L139.9 767.0L139.9 780.8L141.3 780.8L141.3 788.7L142.5 788.7L142.5 769.8L144.7 769.8L144.7 757.0L146.8 757.0L146.8 774.1L148.0 774.1L148.0 792.6L151.1 792.6L151.1 789.3L153.7 789.3L153.7 787.2L156.5 787.2L156.5 792.1L162.0 792.1L162.0 790.9L164.2 790.9L164.2 773.5L165.9 773.5L165.9 775.3L167.9 775.3L167.9 790.5L169.6 790.5L169.6 786.0L171.8 786.0L171.8 789.3L174.9 789.3L174.9 792.6L176.7 792.6L176.7 791.4L178.8 791.4L178.8 792.6L181.6 792.6L181.6 788.7L182.8 788.7L182.8 778.9L184.0 778.9L184.0 792.1L187.0 792.1L187.0 782.0L188.3 782.0L188.3 772.8L188.9 772.8L188.9 759.2L190.7 759.2L190.7 774.7L192.9 774.7L192.9 786.2L194.4 786.2L194.4 778.9L196.2 778.9L196.2 785.0L197.4 785.0L197.4 790.9L200.4 790.9L200.4 792.9L205.9 792.9L205.9 788.1L207.7 788.1L207.7 786.2L209.6 786.2L209.6 792.1L212.6 792.1L212.6 788.1L214.1 788.1L214.1 769.2L215.7 769.2L215.7 740.2L217.9 740.2L217.9 764.3L218.7 764.3L218.7 788.7L219.9 788.7L219.9 770.4L221.8 770.4L221.8 754.3L223.6 754.3L223.6 783.8L224.6 783.8L224.6 792.6L229.7 792.6L229.7 793.8Z"/>
<path stroke="#878787" stroke-width="1" fill="none" d="M43.5 703.3V793.5H233.9"/>
<path stroke="#878787" stroke-width="1" fill="none" d="M40.0 793.5H43.5M40.0 771.5H43.5M40.0 748.5H43.5M40.0 725.5H43.5M40.0 703.5H43.5M43.5 793.5V797.0M99.5 793.5V797.0M156.5 793.5V797.0M212.5 793.5V797.0"/>
<text x="36.2" y="796.8" class="yt">0</text>
<text x="36.2" y="774.2" class="yt">10</text>
<text x="36.2" y="751.5" class="yt">20</text>
<text x="36.2" y="728.9" class="yt">30</text>
<text x="36.2" y="706.3" class="yt">40</text>
<text class="yl" transform="translate(8.3 755.0) rotate(-90) scale(1 1.12)">Rainfall at R2 station</text>
<text class="yl" transform="translate(19.6 755.0) rotate(-90)">(mm)</text>
<text x="112.7" y="727.8" class="in">d3</text>
<text class="xt" transform="translate(41.4 809.3) rotate(20)">1-Oct-00</text>
<text class="xt" transform="translate(97.8 809.3) rotate(20)">10-Dec-02</text>
<text class="xt" transform="translate(154.4 809.3) rotate(20)">17-Feb-05</text>
<text class="xt" transform="translate(210.8 809.3) rotate(20)">28-Apr-07</text>
<text transform="translate(134.5 834.6) scale(1 1.05)" class="tm">Time (day)</text>
<text x="133.5" y="858.3" class="cap">(e) d3 component</text>
<path fill="#C0504D" d="M346.3 794.2L346.3 793.0L351.2 793.0L351.2 792.1L356.0 792.1L356.0 789.9L357.3 789.9L357.3 783.2L358.5 783.2L358.5 782.0L360.3 782.0L360.3 781.1L362.1 781.1L362.1 777.1L363.1 777.1L363.1 760.1L364.8 760.1L364.8 780.8L366.0 780.8L366.0 786.2L367.3 786.2L367.3 790.5L368.3 790.5L368.3 792.1L376.2 792.1L376.2 793.0L381.6 793.0L381.6 790.1L383.4 790.1L383.4 788.1L384.7 788.1L384.7 786.0L385.9 786.0L385.9 791.7L387.1 791.7L387.1 774.1L388.9 774.1L388.9 764.9L390.8 764.9L390.8 769.8L393.2 769.8L393.2 788.7L394.4 788.7L394.4 793.0L400.0 793.0L400.0 792.1L407.9 792.1L407.9 785.0L409.3 785.0L409.3 780.2L410.9 780.2L410.9 777.1L412.7 777.1L412.7 785.6L414.2 785.6L414.2 777.1L415.8 777.1L415.8 728.4L418.6 728.4L418.6 785.0L420.0 785.0L420.0 792.6L432.2 792.6L432.2 788.7L434.1 788.7L434.1 786.8L435.6 786.8L435.6 789.9L437.3 789.9L437.3 784.4L438.9 784.4L438.9 777.1L441.0 777.1L441.0 759.5L442.9 759.5L442.9 791.7L444.2 791.7L444.2 792.6L459.0 792.6L459.0 780.2L460.8 780.2L460.8 773.5L462.9 773.5L462.9 772.2L464.5 772.2L464.5 786.8L466.3 786.8L466.3 783.2L468.5 783.2L468.5 792.6L476.7 792.6L476.7 791.7L481.6 791.7L481.6 786.2L482.8 786.2L482.8 777.1L484.3 777.1L484.3 785.0L485.9 785.0L485.9 774.1L487.5 774.1L487.5 771.6L488.9 771.6L488.9 756.0L491.1 756.0L491.1 766.1L492.6 766.1L492.6 791.1L495.6 791.1L495.6 792.6L499.3 792.6L499.3 791.1L501.7 791.1L501.7 792.6L508.4 792.6L508.4 777.1L509.9 777.1L509.9 769.2L511.1 769.2L511.1 756.0L512.7 756.0L512.7 766.8L513.9 766.8L513.9 763.1L515.1 763.1L515.1 702.8L516.9 702.8L516.9 786.2L518.4 786.2L518.4 792.1L523.0 792.1L523.0 794.2Z"/>
<path stroke="#878787" stroke-width="1" fill="none" d="M340.5 703.3V794.5H526.6"/>
<path stroke="#878787" stroke-width="1" fill="none" d="M337.0 794.5H340.5M337.0 776.5H340.5M337.0 757.5H340.5M337.0 739.5H340.5M337.0 721.5H340.5M337.0 703.5H340.5M340.5 794.5V798.0M395.5 794.5V798.0M450.5 794.5V798.0M505.5 794.5V798.0"/>
<text x="333.7" y="797.2" class="yt">0</text>
<text x="333.7" y="779.0" class="yt">200</text>
<text x="333.7" y="760.8" class="yt">400</text>
<text x="333.7" y="742.7" class="yt">600</text>
<text x="333.7" y="724.5" class="yt">800</text>
<text x="333.7" y="706.3" class="yt">1000</text>
<text class="yl" transform="translate(298.2 758.0) rotate(-90) scale(1 1.12)">Panchet Reservoir Inflow</text>
<text class="yl" transform="translate(309.5 758.0) rotate(-90)">(m<tspan class="sup" dy="-3.5">3</tspan><tspan dy="3.5">/s)</tspan></text>
<text x="437.1" y="726.8" class="in">d3</text>
<text class="xt" transform="translate(338.7 809.7) rotate(20)">1-Oct-00</text>
<text class="xt" transform="translate(393.2 809.7) rotate(20)">10-Dec-02</text>
<text class="xt" transform="translate(448.5 809.7) rotate(20)">17-Feb-05</text>
<text class="xt" transform="translate(503.4 809.7) rotate(20)">28-Apr-07</text>
<text transform="translate(427.4 834.6) scale(1 1.05)" class="tm">Time (day)</text>
<text x="426.0" y="858.3" class="cap">(e) d3 component</text>
<text x="43.3" y="884.4" class="cap" style="text-anchor:start">(i)</text>
<text x="72.2" y="884.4" class="cap" style="text-anchor:start">Rainfall at station DVC R2</text>
<text x="345.6" y="884.4" class="cap" style="text-anchor:start">(ii)</text>
<text x="372.8" y="884.4" class="cap" style="text-anchor:start">Panchet reservoir inflow</text>
</svg>
</body></html>
